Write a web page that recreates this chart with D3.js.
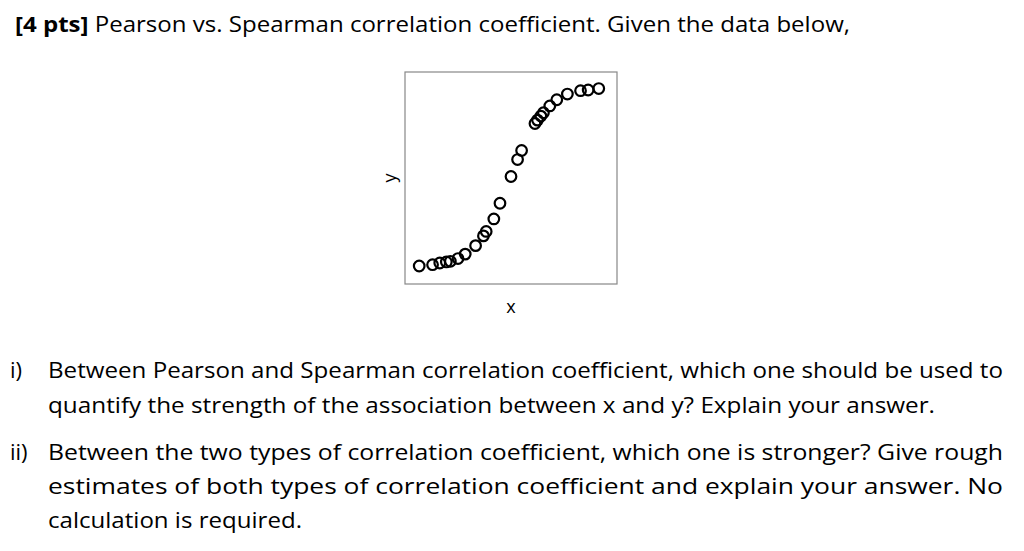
<!DOCTYPE html>
<html><head><meta charset="utf-8">
<script src="https://cdn.jsdelivr.net/npm/d3@7"></script>
<style>body{margin:0;background:#fff}text{font-family:"Open Sans",sans-serif;fill:#000}</style>
</head><body>
<svg id="c" width="1024" height="551"></svg>
<script>
const xs = [6.7,13.0,16.4,19.5,21.4,25.0,28.4,33.3,37.0,38.3,41.9,44.8,50.0,53.1,55.0,61.3,62.5,64.1,65.3,68.3,71.6,76.6,82.8,86.4,91.4];
const ys = [8.5,9.1,9.9,10.4,10.7,12.0,14.1,18.1,22.7,24.8,30.7,38.1,50.7,58.7,63.0,75.7,77.3,79.2,80.8,84.0,86.9,89.6,91.2,91.5,92.2];
const lines = [
  {label:"i)", text:"Between Pearson and Spearman correlation coefficient, which one should be used to", y:378, len:955},
  {label:"", text:"quantify the strength of the association between x and y? Explain your answer.", y:413, len:887},
  {label:"ii)", text:"Between the two types of correlation coefficient, which one is stronger? Give rough", y:460, len:955},
  {label:"", text:"estimates of both types of correlation coefficient and explain your answer. No", y:494, len:955},
  {label:"", text:"calculation is required.", y:528, len:254}
];
const svg = d3.select("#c");
const box = {x:405, y:72, w:212, h:212};
const x = d3.scaleLinear().domain([0,100]).range([box.x, box.x+box.w]);
const y = d3.scaleLinear().domain([0,100]).range([box.y+box.h, box.y]);

const title = svg.append("text").attr("x",15).attr("y",32).attr("font-size",22)
  .attr("textLength",835).attr("lengthAdjust","spacingAndGlyphs");
title.append("tspan").attr("font-weight","bold").text("[4 pts]");
title.append("tspan").text(" Pearson vs. Spearman correlation coefficient. Given the data below,");

svg.append("rect").attr("x",box.x).attr("y",box.y).attr("width",box.w).attr("height",box.h)
  .attr("fill","none").attr("stroke","#888").attr("stroke-width",1.2);
svg.selectAll("circle").data(xs).join("circle")
  .attr("cx",d=>x(d)).attr("cy",(d,i)=>y(ys[i])).attr("r",5.3)
  .attr("fill","none").attr("stroke","#000").attr("stroke-width",2.2);
svg.append("text").attr("x",511).attr("y",313).attr("text-anchor","middle").attr("font-size",18).text("x");
svg.append("text").attr("transform","translate(396,178) rotate(-90)").attr("text-anchor","middle").attr("font-size",18).text("y");

lines.forEach(l=>{
  if(l.label) svg.append("text").attr("x",10).attr("y",l.y).attr("font-size",22).text(l.label);
  svg.append("text").attr("x",48).attr("y",l.y).attr("font-size",22).text(l.text)
    .attr("textLength",l.len).attr("lengthAdjust","spacingAndGlyphs");
});
</script>
</body></html>
